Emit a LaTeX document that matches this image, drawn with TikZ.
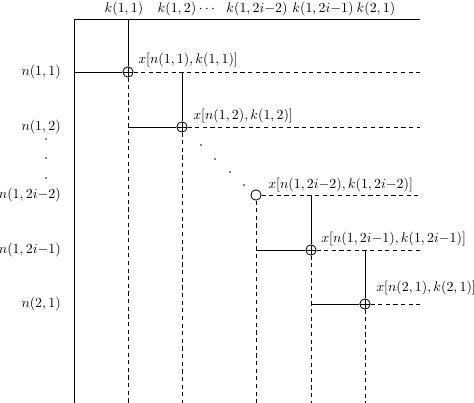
\documentclass[tikz,border=0pt]{standalone}
\begin{document}
\begin{tikzpicture}[x=0.72pt,y=-0.72pt,
  ln/.style={line width=0.6pt},
  dl/.style={line width=0.6pt,dash pattern=on 3pt off 2.5pt},
  op/.style={circle,draw,line width=0.6pt,inner sep=0pt,minimum size=7.4pt,
    path picture={\draw[line width=0.5pt] (path picture bounding box.north) -- (path picture bounding box.south)
      (path picture bounding box.west) -- (path picture bounding box.east);}},
  oc/.style={circle,draw,line width=0.6pt,inner sep=0pt,minimum size=7.4pt},
  lab/.style={inner sep=0pt,font=\normalsize},
  dot/.style={circle,fill,inner sep=0pt,minimum size=1.1pt}]
\useasboundingbox (0,0) rectangle (474,403);
% frame coordinates
\coordinate (TL) at (74,19);
\coordinate (BL) at (74,403);
\coordinate (TR) at (420,19);
% circles
\node[op] (c1) at (128,72) {};
\node[op] (c2) at (182,127) {};
\node[oc] (c3) at (256,195) {};
\node[op] (c4) at (311,250) {};
\node[op] (c5) at (365,304) {};
% helper coordinates
\coordinate (t1) at (128,19);
\coordinate (t2) at (182,72);
\coordinate (t4) at (311,195);
\coordinate (t5) at (365,250);
\coordinate (s1) at (74,72);
\coordinate (s2) at (128,127);
\coordinate (s4) at (256,250);
\coordinate (s5) at (311,304);
\coordinate (e1) at (420,72);
\coordinate (e2) at (420,127);
\coordinate (e3) at (420,195);
\coordinate (e4) at (420,250);
\coordinate (e5) at (420,304);
\coordinate (b1) at (128,403);
\coordinate (b2) at (182,403);
\coordinate (b3) at (256,403);
\coordinate (b4) at (311,403);
\coordinate (b5) at (365,403);
% frame
\draw[ln] (BL) -- (TL) -- (TR);
% solid segments
\draw[ln] (t1) -- (c1);
\draw[ln] (s1) -- (c1);
\draw[ln] (t2) -- (c2);
\draw[ln] (s2) -- (c2);
\draw[ln] (t4) -- (c4);
\draw[ln] (s4) -- (c4);
\draw[ln] (t5) -- (c5);
\draw[ln] (s5) -- (c5);
% dashed segments
\draw[dl] (c1) -- (e1);
\draw[dl] (c2) -- (e2);
\draw[dl] (c3) -- (e3);
\draw[dl] (c4) -- (e4);
\draw[dl] (c5) -- (e5);
\draw[dl] (c1) -- (b1);
\draw[dl] (c2) -- (b2);
\draw[dl] (c3) -- (b3);
\draw[dl] (c4) -- (b4);
\draw[dl] (c5) -- (b5);
% top labels
\node[lab] (k1) at (124,9.5) {$k(1,1)$};
\node[lab] (k2) at (177,9.5) {$k(1,2)$};
\node[lab] (kd) at (207,9.5) {$\cdots$};
\node[lab] (k3) at (257,9.5) {$k(1,2i{-}2)$};
\node[lab] (k4) at (323,9.5) {$k(1,2i{-}1)$};
\node[lab] (k5) at (376,9.5) {$k(2,1)$};
% left labels
\node[lab,anchor=east] (n1) at (61,72) {$n(1,1)$};
\node[lab,anchor=east] (n2) at (61,127) {$n(1,2)$};
\node[lab,anchor=east] (n3) at (61,195) {$n(1,2i{-}2)$};
\node[lab,anchor=east] (n4) at (61,250) {$n(1,2i{-}1)$};
\node[lab,anchor=east] (n5) at (61,304) {$n(2,1)$};
% x labels
\node[lab,anchor=west] (x1) at (138,60) {$x[n(1,1),k(1,1)]$};
\node[lab,anchor=west] (x2) at (193,116) {$x[n(1,2),k(1,2)]$};
\node[lab,anchor=west] (x3) at (268,185) {$x[n(1,2i{-}2),k(1,2i{-}2)]$};
\node[lab,anchor=west] (x4) at (321,239) {$x[n(1,2i{-}1),k(1,2i{-}1)]$};
\node[lab,anchor=west] (x5) at (376,288) {$x[n(2,1),k(2,1)]$};
% dots
\node[dot] (v1) at (46,139) {};
\node[dot] (v2) at (46,158) {};
\node[dot] (v3) at (46,178) {};
\node[dot] (d1) at (201,145) {};
\node[dot] (d2) at (215,159) {};
\node[dot] (d3) at (230,172) {};
\node[dot] (d4) at (244,185) {};
\end{tikzpicture}
\end{document}
